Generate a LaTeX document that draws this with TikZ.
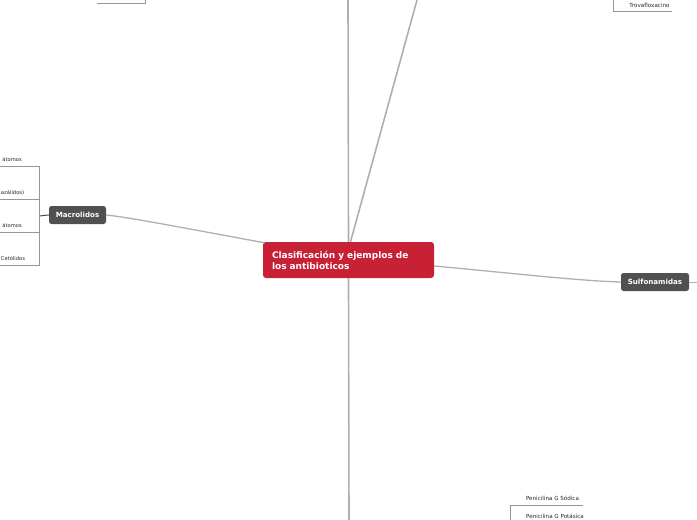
\documentclass[tikz,border=0pt]{standalone}
\usepackage{fontspec}
\setmainfont{DejaVu Sans}
\usetikzlibrary{calc}
\definecolor{mainred}{RGB}{200,32,52}
\definecolor{darknode}{RGB}{80,80,80}
\definecolor{branchgray}{RGB}{175,175,175}
\definecolor{thingray}{RGB}{150,150,150}
\tikzset{
  centralbox/.style={rectangle, rounded corners=3pt, fill=mainred, text=white,
    font=\bfseries\fontsize{9}{11}\selectfont, minimum width=171pt, minimum height=36pt,
    text width=153pt, align=left, inner sep=0pt},
  topicbox/.style={rectangle, rounded corners=2.5pt, fill=darknode, text=white,
    font=\bfseries\fontsize{7.1}{8}\selectfont, minimum height=18pt, inner sep=0pt},
  branch/.style={draw=branchgray, line width=1.6pt},
  thinline/.style={draw=thingray, line width=0.7pt},
  darkline/.style={draw=darknode, line width=1pt},
  leaf/.style={font=\fontsize{5.6}{6}\selectfont, text=black!85, inner sep=0pt},
  sideleaf/.style={font=\fontsize{5.2}{6}\selectfont, text=black!85, inner sep=0pt}
}
\begin{document}
\begin{tikzpicture}[x=1pt,y=-1pt]
\useasboundingbox (0,0) rectangle (697,520);
% nodes
\node[centralbox] (c) at (348.5,260) {Clasificación y ejemplos de\\los antibioticos};
\node[topicbox, minimum width=57pt] (m) at (77.5,215) {Macrolidos};
\node[topicbox, minimum width=68pt] (s) at (655,282) {Sulfonamidas};
% free ends
\coordinate (top) at (348,0);
\coordinate (bot) at (349,520);
\coordinate (tr) at (417,0);
\coordinate (sr) at (697,282);
\coordinate (bk) at (39,216);
% main branches
\draw[branch] (top) -- (c.north);
\draw[branch] (c.south) -- (bot);
\draw[branch] (tr) -- ([xshift=2pt]c.north);
\draw[branch, line width=1.3pt] ($(c.north west)+(2,1)$) .. controls (200,231) and (128,217) .. (m.east);
\draw[branch, line width=1.3pt] ($(c.east)+(0,6)$) .. controls (500,272) and (580,281) .. (s.west);
\draw[branch, line width=1pt] (s.east) -- (sr);
% Macrolidos bracket
\draw[darkline] (m.west) -- (bk);
\node[sideleaf, anchor=base east] (l1) at (22,161.5) {átomos};
\node[sideleaf, anchor=base west] (l2) at (0.8,194.5) {azálidos)};
\node[sideleaf, anchor=base east] (l3) at (22,227.5) {átomos};
\node[sideleaf, anchor=base west] (l4) at (0.8,260.5) {Cetólidos};
\draw[thinline] (0,166) -- (39,166) -- (39,265) -- (0,265);
\draw[thinline] (0,199) -- (39,199);
\draw[thinline] (0,232) -- (39,232);
% top left fragment
\draw[thinline] (97,3) -- (145,3) -- (145,0);
% top right
\node[leaf] (tv) at (649.5,5.5) {Trovafloxacino};
\draw[thinline] (613,0) -- (613,11) -- (672,11);
% bottom
\node[leaf] (p1) at (552.5,498.5) {Penicilina G Sódica};
\node[leaf] (p2) at (555,516.3) {Penicilina G Potásica};
\draw[thinline] (583,505) -- (510,505) -- (510,520);
\end{tikzpicture}
\end{document}
